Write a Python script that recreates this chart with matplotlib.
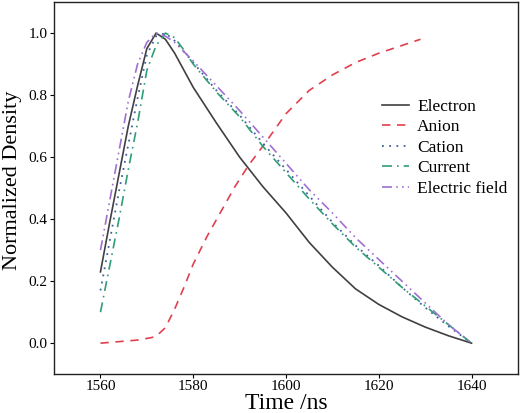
import numpy as np
import matplotlib
matplotlib.use("Agg")
import matplotlib.pyplot as plt

plt.rcParams['font.family'] = ['Liberation Serif', 'DejaVu Serif']

# time grid (ns) shared by the four fast curves
t = [1560, 1562, 1564, 1566, 1568, 1570, 1572, 1574, 1576, 1578, 1580, 1585,
     1590, 1595, 1600, 1605, 1610, 1615, 1620, 1625, 1630, 1635, 1640]

electron = [0.23, 0.39, 0.545, 0.70, 0.83, 0.95, 1.0, 0.98, 0.935, 0.88, 0.825, 0.71,
            0.60, 0.505, 0.42, 0.325, 0.245, 0.175, 0.125, 0.085, 0.052, 0.024, 0.0]
cation = [0.17, 0.33, 0.49, 0.64, 0.79, 0.93, 0.99, 1.0, 0.975, 0.94, 0.905, 0.815,
          0.735, 0.645, 0.56, 0.475, 0.39, 0.315, 0.25, 0.18, 0.115, 0.055, 0.0]
current = [0.10, 0.25, 0.40, 0.56, 0.71, 0.88, 0.96, 1.0, 0.985, 0.945, 0.90, 0.81,
           0.73, 0.635, 0.55, 0.465, 0.385, 0.31, 0.245, 0.18, 0.12, 0.06, 0.0]
efield = [0.30, 0.46, 0.62, 0.78, 0.90, 0.97, 1.0, 0.99, 0.97, 0.94, 0.91, 0.83,
          0.75, 0.665, 0.58, 0.495, 0.42, 0.34, 0.27, 0.20, 0.13, 0.06, 0.0]

# anion has its own time points
t_anion = [1560, 1564, 1568, 1571, 1572, 1574, 1576, 1578, 1580, 1583, 1586,
           1589, 1592, 1595, 1600, 1605, 1610, 1615, 1620, 1625, 1629]
anion = [0.0, 0.005, 0.01, 0.018, 0.022, 0.05, 0.11, 0.18, 0.255, 0.345, 0.425,
         0.505, 0.575, 0.635, 0.74, 0.815, 0.865, 0.905, 0.935, 0.96, 0.98]

fig = plt.figure(figsize=(5.2, 4.13), dpi=100)
ax = fig.add_axes([0.104, 0.094, 0.892, 0.901])

ax.plot(t, electron, color='#404040', lw=1.2, ls='-', label='Electron')
ax.plot(t_anion, anion, color='#e0404e', lw=1.2, ls=(0, (5, 4)), label='Anion')
ax.plot(t, cation, color='#3f5fa0', lw=1.3, ls=(0, (1, 3)), label='Cation')
ax.plot(t, current, color='#2e9e78', lw=1.2, ls=(0, (6, 3, 1, 3)), label='Current')
ax.plot(t, efield, color='#a070d0', lw=1.2, ls=(0, (6, 2.5, 1, 2.5, 1, 2.5)),
        label='Electric field')

ax.set_xlim(1550, 1650)
ax.set_ylim(-0.1, 1.1)
ax.set_xticks([1560, 1580, 1600, 1620, 1640])
ax.set_yticks([0.0, 0.2, 0.4, 0.6, 0.8, 1.0])
ax.set_yticklabels(['0.0', '0.2', '0.4', '0.6', '0.8', '1.0'])
ax.tick_params(direction='out', length=3, labelsize=11, width=0.8, pad=1.5)

ax.set_xlabel('Time /ns', fontsize=17)
ax.xaxis.set_label_coords(0.5, -0.05)
ax.set_ylabel('Normalized Density', fontsize=16)
ax.yaxis.set_label_coords(-0.07, 0.52)

for s in ax.spines.values():
    s.set_linewidth(1.0)
    s.set_color('#222222')

ax.legend(loc='upper left', bbox_to_anchor=(0.708, 0.74), frameon=False,
          fontsize=12.5, handlelength=1.5, handletextpad=0.5,
          labelspacing=0.25, borderpad=0, borderaxespad=0)

fig.savefig('out.png', dpi=100)
